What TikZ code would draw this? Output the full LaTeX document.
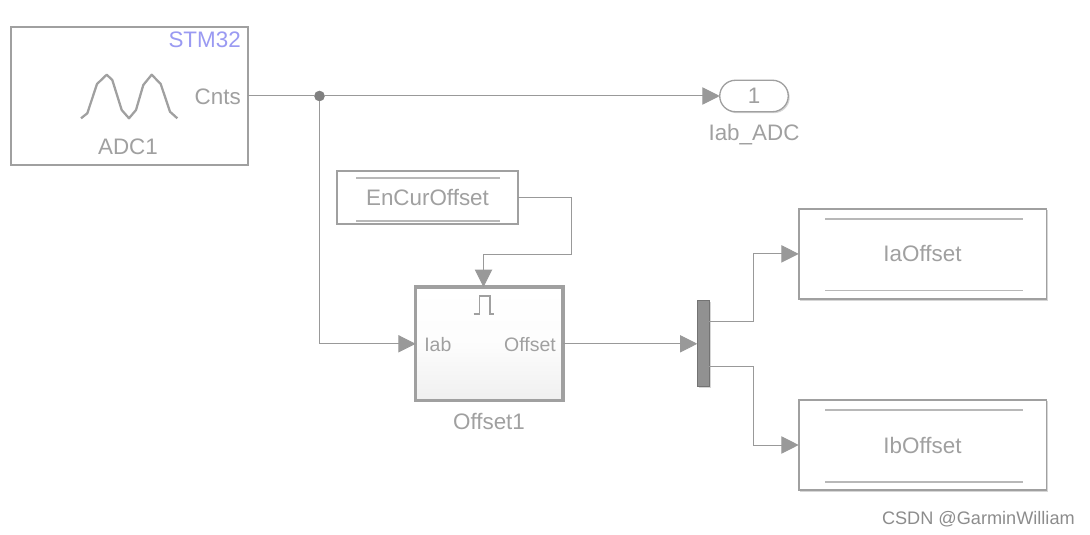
\documentclass[tikz,border=0pt]{standalone}
\usepackage{fontspec}
\setmainfont{Liberation Sans}
\usetikzlibrary{arrows.meta,shadows}
\definecolor{simgray}{HTML}{A0A0A0}
\definecolor{simline}{HTML}{999999}
\definecolor{simblue}{HTML}{9A9AF2}

\begin{document}
\begin{tikzpicture}[
  x=0.75pt, y=-0.75pt, >={Triangle[length=13pt,width=13pt]},
  softshadow/.style={drop shadow={shadow xshift=1.1pt,shadow yshift=-1.1pt,fill=black,opacity=0.16}},
  block/.style={rectangle,draw=simgray,line width=1.2pt,fill=white,outer sep=0pt,inner sep=0pt,softshadow},
  store/.style={block,text=simgray,font=\fontsize{16.8}{19}\selectfont},
  subsys/.style={rectangle,draw=simgray,line width=2.6pt,top color=white,bottom color=black!6,middle color=black!1,outer sep=0pt,inner sep=0pt,softshadow},
  oport/.style={block,rounded corners=11.8pt,line width=1pt,text=simgray,font=\fontsize{16.8}{19}\selectfont},
  demux/.style={rectangle,draw=black!55,line width=0.8pt,fill=black!43,outer sep=0pt,inner sep=0pt,softshadow},
  lbl/.style={inner sep=0pt,text=simgray,font=\fontsize{16.8}{19}\selectfont},
  plbl/.style={inner sep=0pt,text=simgray,font=\fontsize{14.6}{17}\selectfont},
  arr/.style={->,draw=simline,line width=0.75pt,color=simline},
  rule/.style={draw=black!28,line width=0.9pt},
  icon/.style={draw=simgray,line width=1.7pt,line join=round}]
\path[use as bounding box] (0,0) rectangle (1090,535);
% blocks
\node[block,minimum width=177.75pt,minimum height=103.5pt] (adc) at (129.5,96) {};
\node[store,minimum width=135.75pt,minimum height=39.75pt] (encur) at (427.5,197.5) {\raisebox{-0.6pt}{EnCurOffset}};
\node[subsys,minimum width=110.5pt,minimum height=85.2pt] (offset) at (489.3,343.8) {};
\node[store,minimum width=185.7pt,minimum height=67.7pt] (iaoff) at (922.5,253.9) {\raisebox{-0.6pt}{IaOffset}};
\node[store,minimum width=185.7pt,minimum height=67.7pt] (iboff) at (922.5,445) {\raisebox{-0.6pt}{IbOffset}};
\node[oport,minimum width=51.4pt,minimum height=23.6pt] (out) at (754,96) {1};
\node[demux,minimum width=8.8pt,minimum height=64.3pt] (split) at (703.2,343.8) {};
\node[circle,fill=black!50,draw=black!50,inner sep=0pt,minimum size=7.5pt] (dot) at (319.5,96) {};
% labels
\node[lbl,text=simblue,anchor=east] (stm) at (241,40) {STM32};
\node[lbl,anchor=east] (cnts) at (241,97) {Cnts};
\node[lbl] (adcname) at (128,147) {ADC1};
\node[lbl] (outname) at (754,135) {Iab\_ADC};
\node[plbl,anchor=west] (iab) at (424,345) {Iab};
\node[plbl,anchor=east] (offs) at (556,345) {Offset};
\node[lbl] (offname) at (489,422) {Offset1};
\node[inner sep=0pt,text=black!45,font=\fontsize{13.6}{15}\selectfont,anchor=east] (mark) at (1075,519) {CSDN @GarminWilliam};
% ports on the blocks
\coordinate (enport) at (483.5,287);
\coordinate (split1) at (709,321.3);
\coordinate (split2) at (709,366.3);
% wires
\draw[arr,-] (adc.east) -- (dot);
\draw[arr] (dot) -- (out.west);
\draw[arr] (dot) |- (offset.west);
\draw[arr] (encur.east) -- ++(53.5,0) -- ++(0,56.5) -| (enport);
\draw[arr] (offset.east) -- (split.west);
\draw[arr] (split1) -- ++(44.3,0) |- (iaoff.west);
\draw[arr] (split2) -- ++(44.3,0) |- (iboff.west);
% bars inside the stores
\draw[rule] (356,178) -- (500,178);
\draw[rule] (356,221) -- (500,221);
\draw[rule] (825,219) -- (1022.7,219);
\draw[rule] (825,290.7) -- (1022.7,290.7);
\draw[rule] (825,410) -- (1022.7,410);
\draw[rule] (825,482) -- (1022.7,482);
% icons
\draw[icon] (81,118.3) -- (87.3,113.3) -- (97,84) -- (106.7,74.7) -- (112.3,80) -- (121.7,110) -- (129,118.3) -- (136,110) -- (143.3,85) -- (151.7,74.7) -- (160.7,84) -- (170,111.7) -- (177.3,118.3);
\draw[draw=simgray,line width=0.8pt] (473.5,314) -- (479.5,314) -- (479.5,296) -- (490,296) -- (490,314) -- (493.5,314);
\end{tikzpicture}
\end{document}
